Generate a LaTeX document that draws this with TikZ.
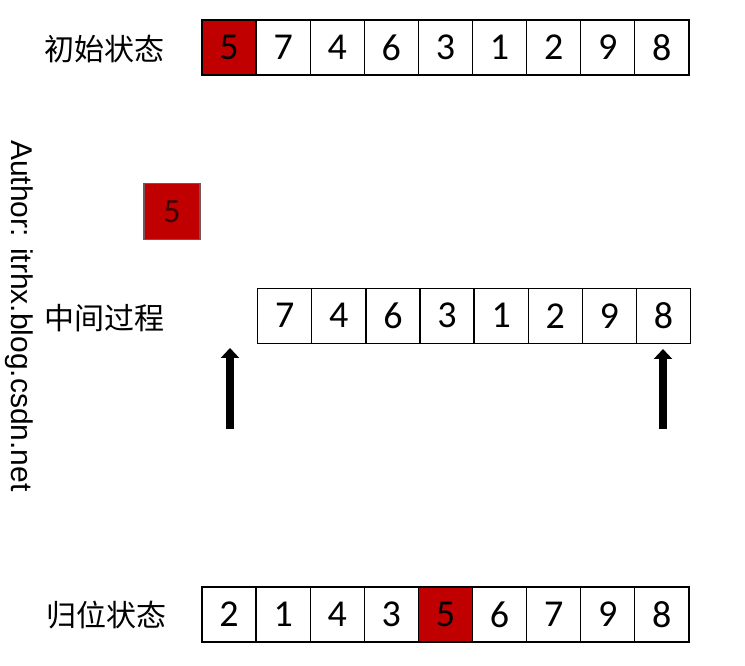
\documentclass[tikz,border=0pt]{standalone}
\usepackage{fontspec}
\setmainfont{Carlito}
\newfontfamily\cjkfont{Noto Sans CJK SC}
\newfontfamily\authfont{Liberation Sans}
\usetikzlibrary{arrows.meta}
\definecolor{cellred}{RGB}{192,0,0}
\definecolor{floatedge}{RGB}{120,85,85}
\definecolor{floatdigit}{RGB}{60,0,0}
\begin{document}
\begin{tikzpicture}[x=1pt,y=1pt,
  cell/.style={draw=black, line width=1.3pt, minimum width=54.1pt, minimum height=55pt,
    inner sep=0pt, fill=white, font=\fontsize{38}{40}\selectfont},
  hot/.style={cell, fill=cellred},
  floatcell/.style={draw=floatedge, line width=1.5pt, fill=cellred, minimum width=56pt,
    minimum height=56pt, inner sep=0pt, text=floatdigit, font=\fontsize{34}{36}\selectfont},
  lab/.style={anchor=west, inner sep=0pt, font=\cjkfont\fontsize{30}{32}\selectfont},
  uparrow/.style={line width=8.5pt, -{Triangle[width=18pt,length=10pt]}}
]
\fill[white] (0,0) rectangle (745,665);
\useasboundingbox (0,0) rectangle (745,665);

% labels
\node[lab] (l1) at (44,616) {初始状态};
\node[lab] (l2) at (44,347) {中间过程};
\node[lab] (l3) at (46,50) {归位状态};

% top row
\node[hot]  (t1) at (229.05,617.5) {5};
\node[cell] (t2) at (283.15,617.5) {7};
\node[cell] (t3) at (337.25,617.5) {4};
\node[cell] (t4) at (391.35,617.5) {6};
\node[cell] (t5) at (445.45,617.5) {3};
\node[cell] (t6) at (499.55,617.5) {1};
\node[cell] (t7) at (553.65,617.5) {2};
\node[cell] (t8) at (607.75,617.5) {9};
\node[cell] (t9) at (661.85,617.5) {8};

% floating pivot
\node[floatcell] (p) at (172,453.5) {5};

% middle row
\node[cell] (m1) at (284.75,349.25) {7};
\node[cell] (m2) at (338.85,349.25) {4};
\node[cell] (m3) at (392.95,349.25) {6};
\node[cell] (m4) at (447.05,349.25) {3};
\node[cell] (m5) at (501.15,349.25) {1};
\node[cell] (m6) at (555.25,349.25) {2};
\node[cell] (m7) at (609.35,349.25) {9};
\node[cell] (m8) at (663.45,349.25) {8};

% arrows
\coordinate (la0) at (230,236);
\coordinate (la1) at (230,317);
\coordinate (ra0) at (663,236);
\coordinate (ra1) at (663,316);
\draw[uparrow] (la0) -- (la1);
\draw[uparrow] (ra0) -- (ra1);

% bottom row
\node[cell] (b1) at (229.05,50.5) {2};
\node[cell] (b2) at (283.15,50.5) {1};
\node[cell] (b3) at (337.25,50.5) {4};
\node[cell] (b4) at (391.35,50.5) {3};
\node[hot]  (b5) at (445.45,50.5) {5};
\node[cell] (b6) at (499.55,50.5) {6};
\node[cell] (b7) at (553.65,50.5) {7};
\node[cell] (b8) at (607.75,50.5) {9};
\node[cell] (b9) at (661.85,50.5) {8};

% author
\node[rotate=-90, anchor=base west, inner sep=0pt,
  font=\authfont\fontsize{30}{32}\selectfont] (author) at (12,525) {Author: itrhx.blog.csdn.net};
\end{tikzpicture}
\end{document}
